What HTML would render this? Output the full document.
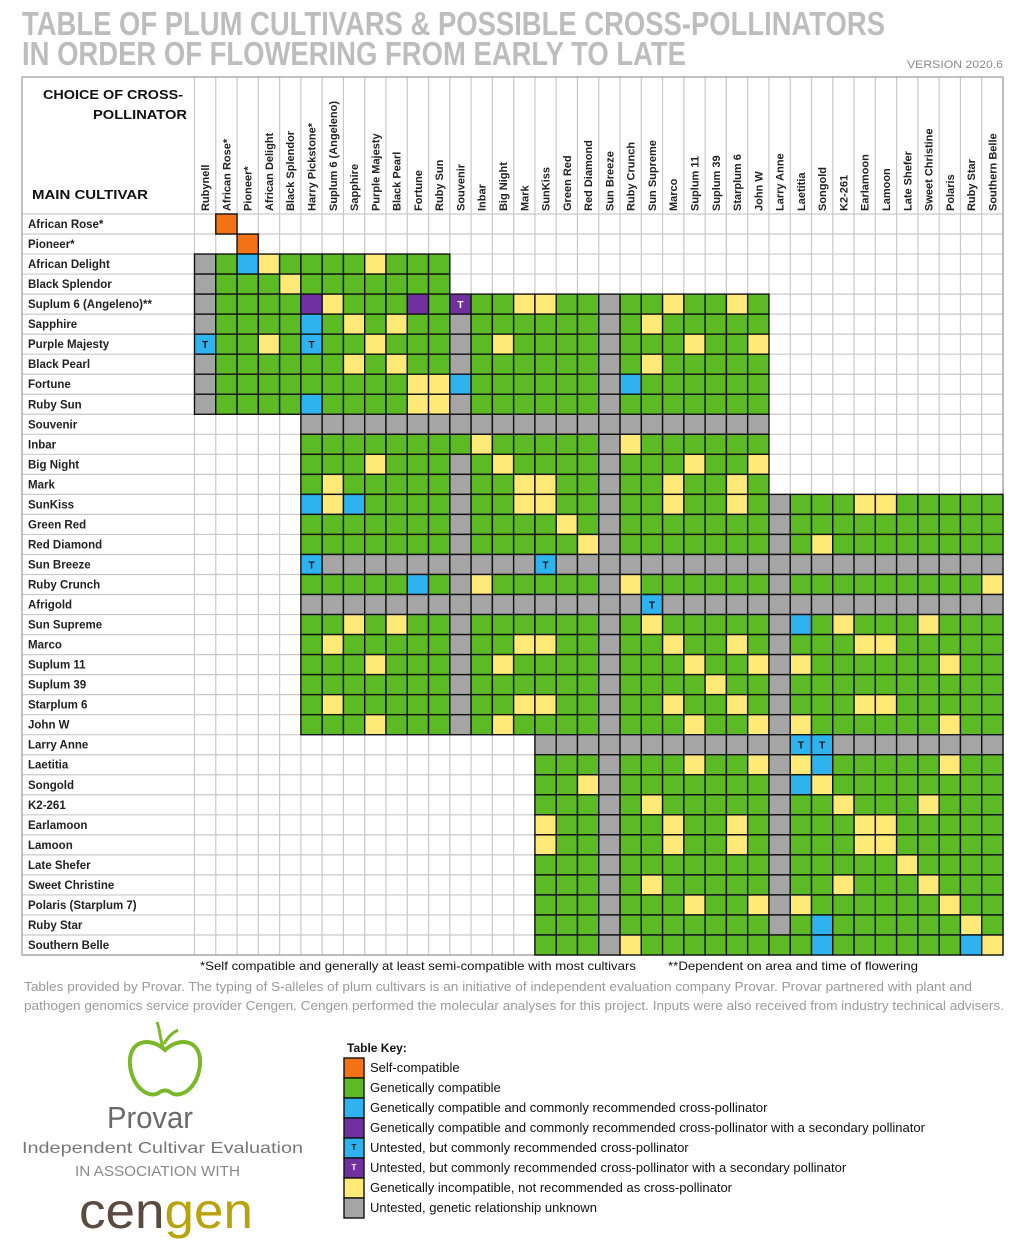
<!DOCTYPE html>
<html><head><meta charset="utf-8"><title>Plum cultivars cross-pollinators</title>
<style>
html,body{margin:0;padding:0;background:#fff;}
svg{display:block;font-family:"Liberation Sans",sans-serif;}
</style></head>
<body>
<svg id="chart" width="1024" height="1245" viewBox="0 0 1024 1245" xmlns="http://www.w3.org/2000/svg">
<text x="22" y="35" font-size="33" font-weight="bold" fill="#bdbdbd" textLength="863" lengthAdjust="spacingAndGlyphs">TABLE OF PLUM CULTIVARS &amp; POSSIBLE CROSS-POLLINATORS</text>
<text x="22" y="65" font-size="33" font-weight="bold" fill="#bdbdbd" textLength="664" lengthAdjust="spacingAndGlyphs">IN ORDER OF FLOWERING FROM EARLY TO LATE</text>
<text x="1003" y="68" font-size="11" fill="#8a8a8a" text-anchor="end" textLength="96" lengthAdjust="spacingAndGlyphs">VERSION 2020.6</text>
<g id="grid"></g>
<text x="183" y="99" font-size="13" font-weight="bold" fill="#111" text-anchor="end" textLength="140" lengthAdjust="spacingAndGlyphs">CHOICE OF CROSS-</text>
<text x="187" y="119" font-size="13" font-weight="bold" fill="#111" text-anchor="end" textLength="94" lengthAdjust="spacingAndGlyphs">POLLINATOR</text>
<text x="32" y="199" font-size="13" font-weight="bold" fill="#111" textLength="116" lengthAdjust="spacingAndGlyphs">MAIN CULTIVAR</text>
<text x="200" y="970" font-size="12" fill="#111" textLength="436" lengthAdjust="spacingAndGlyphs">*Self compatible and generally at least semi-compatible with most cultivars</text>
<text x="668" y="970" font-size="12" fill="#111" textLength="250" lengthAdjust="spacingAndGlyphs">**Dependent on area and time of flowering</text>
<text x="24" y="991" font-size="12.5" fill="#9a9a9a" textLength="948" lengthAdjust="spacingAndGlyphs">Tables provided by Provar. The typing of S-alleles of plum cultivars is an initiative of independent evaluation company Provar. Provar partnered with plant and</text>
<text x="24" y="1010" font-size="12.5" fill="#9a9a9a" textLength="980" lengthAdjust="spacingAndGlyphs">pathogen genomics service provider Cengen. Cengen performed the molecular analyses for this project. Inputs were also received from industry technical advisers.</text>
<g>
<path d="M165 1050 C150 1036 128 1040 130 1065 C132 1088 150 1100 160 1092 C163 1090 167 1090 170 1092 C180 1100 198 1088 200 1065 C202 1040 180 1036 165 1050 Z" fill="none" stroke="#7ab829" stroke-width="4"/>
<path d="M163 1048 C160 1038 160 1030 157 1022 M164 1044 C168 1036 174 1032 178 1030" fill="none" stroke="#7ab829" stroke-width="3"/>
<text x="107" y="1128" font-size="31" fill="#6a6a6a" textLength="86" lengthAdjust="spacingAndGlyphs">Provar</text>
<text x="22" y="1153" font-size="16" fill="#777" textLength="281" lengthAdjust="spacingAndGlyphs">Independent Cultivar Evaluation</text>
<text x="75" y="1176" font-size="15" fill="#8a8a8a" textLength="165" lengthAdjust="spacingAndGlyphs">IN ASSOCIATION WITH</text>
<text x="79" y="1228" font-size="50" textLength="174" lengthAdjust="spacingAndGlyphs"><tspan fill="#5b4a3f">cen</tspan><tspan fill="#b9a20a">gen</tspan></text>
</g>
<g id="legend">
<text x="347" y="1052" font-size="12" font-weight="bold" fill="#111">Table Key:</text>
</g>
</svg>
<script>
const columns = ["Rubynell","African Rose*","Pioneer*","African Delight","Black Splendor","Harry Pickstone*","Suplum 6  (Angeleno)","Sapphire","Purple Majesty","Black Pearl","Fortune","Ruby Sun","Souvenir","Inbar","Big Night","Mark","SunKiss","Green Red","Red Diamond","Sun Breeze","Ruby Crunch","Sun Supreme","Marco","Suplum 11","Suplum 39","Starplum 6","John W","Larry Anne","Laetitia","Songold","K2-261","Earlamoon","Lamoon","Late Shefer","Sweet Christine","Polaris","Ruby Star","Southern Belle"];
const rows = ["African Rose*","Pioneer*","African Delight","Black Splendor","Suplum 6 (Angeleno)**","Sapphire","Purple Majesty","Black Pearl","Fortune","Ruby Sun","Souvenir","Inbar","Big Night","Mark","SunKiss","Green Red","Red Diamond","Sun Breeze","Ruby Crunch","Afrigold","Sun Supreme","Marco","Suplum 11","Suplum 39","Starplum 6","John W","Larry Anne","Laetitia","Songold","K2-261","Earlamoon","Lamoon","Late Shefer","Sweet Christine","Polaris (Starplum 7)","Ruby Star","Southern Belle"];
const D11 = "...........";
const cellCodes = [
".O....................................",
"..O...................................",
"XGBYGGGGYGGG..........................",
"XGGGYGGGGGGG..........................",
"XGGGGPYGGGPGuGGYYGG"+"XGGYGGYG"+D11,
"XGGGGBGYGYGGXGGGGGG"+"XGYGGGGG"+D11,
"tGGYGtGGYGGGXGYGGGG"+"XGGGYGGY"+D11,
"XGGGGGGYGYGGXGGGGGG"+"XGYGGGGG"+D11,
"XGGGGGGGGGYYBGGGGGG"+"XBGGGGGG"+D11,
"XGGGGBGGGGYYXGGGGGG"+"XGGGGGGG"+D11,
"....."+"XXXXXXXXXXXXXXXXXXXXXX"+D11,
"....."+"GGGGGGGGYGGGGG"+"XYGGGGGG"+D11,
"....."+"GGGYGGGXGYGGGG"+"XGGGYGGY"+D11,
"....."+"GYGGGGGXGGYYGG"+"XGGYGGYG"+D11,
"....."+"BYBGGGGXGGYYGG"+"XGGYGGYGXGGGYYGGGGG",
"....."+"GGGGGGGXGGGGYG"+"XGGGGGGGXGGGGGGGGGG",
"....."+"GGGGGGGXGGGGGY"+"XGGGGGGGXGYGGGGGGGG",
"....."+"tXXXXXXXXXXtXX"+"XXXXXXXXXXXXXXXXXXX",
"....."+"GGGGGBGXYGGGGG"+"XYGGGGGGXGGGGGGGGGY",
"....."+"XXXXXXXXXXXXXXXX"+"t"+"XXXXXXXXXXXXXXXX",
"....."+"GGYGYGGXGGGGGG"+"XGYGGGGGXBGYGGGYGGG",
"....."+"GYGGGGGXGGYYGG"+"XGGYGGYGXGGGYYGGGGG",
"....."+"GGGYGGGXGYGGGG"+"XGGGYGGYXYGGGGGGYGG",
"....."+"GGGGGGGXGGGGGG"+"XGGGGYGGXGGGGGGGGGG",
"....."+"GYGGGGGXGGYYGG"+"XGGYGGYGXGGGYYGGGGG",
"....."+"GGGYGGGXGYGGGG"+"XGGGYGGYXYGGGGGGYGG",
"................"+"XXXXXXXXXXXX"+"tt"+"XXXXXXXX",
"................"+"GGG"+"XGGGYGGYXYBGGGGGYGG",
"................"+"GGY"+"XGGGGGGGXBYGGGGGGGG",
"................"+"GGG"+"XGYGGGGGXGGYGGGYGGG",
"................"+"YGG"+"XGGYGGYGXGGGYYGGGGG",
"................"+"YGG"+"XGGYGGYGXGGGYYGGGGG",
"................"+"GGG"+"XGGGGGGGXGGGGGYGGGG",
"................"+"GGG"+"XGYGGGGGXGGYGGGYGGG",
"................"+"GGG"+"XGGGYGGYXYGGGGGGYGG",
"................"+"GGG"+"XGGGGGGGXGBGGGGGGYG",
"................"+"GGG"+"XYGGGGGGGGBGGGGGGBY"
];
const legendCodes = ["O","G","B","P","t","u","Y","X"];
const legendLabels = ["Self-compatible","Genetically compatible","Genetically compatible and commonly recommended cross-pollinator","Genetically compatible and commonly recommended cross-pollinator with a secondary pollinator","Untested, but commonly recommended cross-pollinator","Untested, but commonly recommended cross-pollinator  with a secondary pollinator","Genetically incompatible, not recommended as cross-pollinator","Untested, genetic relationship unknown"];

const NS = "http://www.w3.org/2000/svg";
const COLORS = {O:"#f47216",G:"#5cbb24",B:"#2fb3ee",P:"#7030a0",t:"#2fb3ee",u:"#7030a0",Y:"#ffe977",X:"#a5a5a5"};
const X0 = 194.5, X1 = 1003, Y0 = 214, Y1 = 955, TOP = 77, LEFT = 22;
const CW = (X1 - X0) / columns.length, RH = (Y1 - Y0) / rows.length;
function xScale(i){ return X0 + i * CW; }
function yScale(j){ return Y0 + j * RH; }
function mk(tag, attrs){ const e = document.createElementNS(NS, tag); for (const k in attrs) e.setAttribute(k, attrs[k]); return e; }
const grid = document.getElementById('grid');

for (let i = 0; i <= columns.length; i++) {
  const l = mk('line', {x1:xScale(i), x2:xScale(i), y1:TOP, y2:Y1, stroke:"#c9c9c9", "stroke-width":1.2});
  
  
  grid.appendChild(l);
}
for (let j = 0; j <= rows.length; j++) {
  const l = mk('line', {x1:LEFT, x2:X1, y1:yScale(j), y2:yScale(j), stroke:"#c9c9c9", "stroke-width":1.2});
  
  
  grid.appendChild(l);
}
const frame = mk('rect', {x:LEFT, y:TOP, width:X1-LEFT, height:Y1-TOP, fill:"none", stroke:"#9a9a9a", "stroke-width":1.2});


grid.appendChild(frame);

columns.forEach((c, i) => {
  const cx = xScale(i) + CW / 2 + 4;
  const t = mk('text', {x:cx, y:211, transform:`rotate(-90 ${cx} 211)`, "font-size":11, "font-weight":"bold", fill:"#222"});
  t.textContent = c;
  
  
  grid.appendChild(t);
});
rows.forEach((r, j) => {
  const t = mk('text', {x:28, y:yScale(j) + RH/2 + 4, "font-size":11.5, "font-weight":"bold", fill:"#222"});
  t.textContent = r;
  
  
  grid.appendChild(t);
});
cellCodes.forEach((s, j) => {
  for (let i = 0; i < columns.length; i++) {
    const code = s[i];
    if (!code || code === '.') continue;
    const r = mk('rect', {x:xScale(i), y:yScale(j), width:CW, height:RH, fill:COLORS[code], stroke:"#111", "stroke-width":1.4});
    
    
    grid.appendChild(r);
    if (code === 't' || code === 'u') {
      const tt = mk('text', {x:xScale(i)+CW/2, y:yScale(j)+RH/2+4, "font-size":10, "font-weight":"bold", "text-anchor":"middle", fill: code === 't' ? "#111" : "#fff"});
      tt.textContent = "T";
      
      
      grid.appendChild(tt);
    }
  }
});
const legend = document.getElementById('legend');
legendCodes.forEach((code, k) => {
  const y = 1058 + k * 20;
  const r = mk('rect', {x:344, y:y, width:20, height:20, fill:COLORS[code], stroke:"#111", "stroke-width":1.4});
  
  
  legend.appendChild(r);
  if (code === 't' || code === 'u') {
    const tt = mk('text', {x:354, y:y+12, "font-size":8, "font-weight":"bold", "text-anchor":"middle", fill: code === 't' ? "#111" : "#fff"});
    tt.textContent = "T";
    
    
    legend.appendChild(tt);
  }
  const t = mk('text', {x:370, y:y+14, "font-size":13, fill:"#111"});
  t.textContent = legendLabels[k];
  
  
  legend.appendChild(t);
});
</script>
</body></html>
